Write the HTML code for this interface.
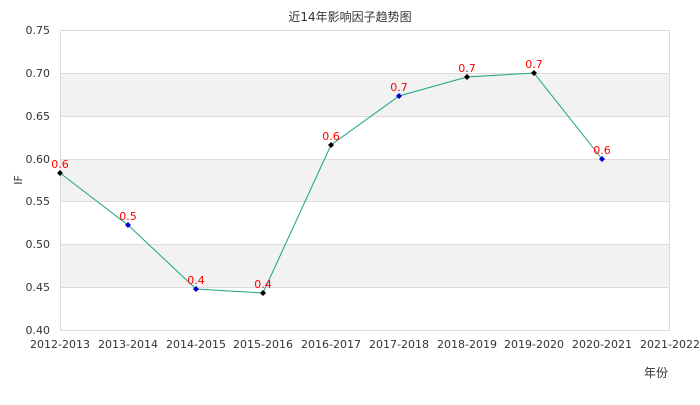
<!DOCTYPE html>
<html><head><meta charset="utf-8"><style>
body{margin:0;background:#fff}
text{font-family:"DejaVu Sans","Noto Sans CJK SC",sans-serif;}
</style></head><body>
<svg width="700" height="400" xmlns="http://www.w3.org/2000/svg">
<rect width="700" height="400" fill="#fff"/>
<text x="350" y="21" font-size="12" fill="#333" text-anchor="middle">近14年影响因子趋势图</text>
<g fill="#f2f2f2">
<rect x="60" y="73" width="610" height="43"/>
<rect x="60" y="159" width="610" height="42"/>
<rect x="60" y="244" width="610" height="43"/>
</g>
<g stroke="#dcdcdc" stroke-width="1">
<line x1="60" y1="30.5" x2="670" y2="30.5"/>
<line x1="60" y1="73.5" x2="670" y2="73.5"/>
<line x1="60" y1="116.5" x2="670" y2="116.5"/>
<line x1="60" y1="159.5" x2="670" y2="159.5"/>
<line x1="60" y1="201.5" x2="670" y2="201.5"/>
<line x1="60" y1="244.5" x2="670" y2="244.5"/>
<line x1="60" y1="287.5" x2="670" y2="287.5"/>
<line x1="60" y1="330.5" x2="670" y2="330.5"/>
<line x1="60.5" y1="30" x2="60.5" y2="330"/>
<line x1="669.5" y1="30" x2="669.5" y2="330"/>
</g>
<g font-size="11" fill="#333" text-anchor="end">
<text x="50" y="34">0.75</text><text x="50" y="77">0.70</text><text x="50" y="120">0.65</text>
<text x="50" y="163">0.60</text><text x="50" y="205">0.55</text><text x="50" y="248">0.50</text>
<text x="50" y="291">0.45</text><text x="50" y="334">0.40</text>
</g>
<text x="22" y="180" font-size="11" fill="#333" text-anchor="middle" transform="rotate(-90 22 180)">IF</text>
<g font-size="11" fill="#333" text-anchor="middle">
<text x="60" y="348">2012-2013</text><text x="128" y="348">2013-2014</text><text x="196" y="348">2014-2015</text>
<text x="263" y="348">2015-2016</text><text x="331" y="348">2016-2017</text><text x="399" y="348">2017-2018</text>
<text x="467" y="348">2018-2019</text><text x="534" y="348">2019-2020</text><text x="602" y="348">2020-2021</text>
<text x="670" y="348">2021-2022</text>
</g>
<text x="656" y="377" font-size="12" fill="#333" text-anchor="middle">年份</text>
<polyline fill="none" stroke="#1aa384" stroke-width="1" points="60,173 128,225 196,289 263,293 331,145 399,96 467,77 534,73 602,159"/>
<g>
<path d="M60,170 l3,3 -3,3 -3,-3z" fill="#000"/>
<path d="M128,222 l3,3 -3,3 -3,-3z" fill="#00c"/>
<path d="M196,286 l3,3 -3,3 -3,-3z" fill="#00c"/>
<path d="M263,290 l3,3 -3,3 -3,-3z" fill="#000"/>
<path d="M331,142 l3,3 -3,3 -3,-3z" fill="#000"/>
<path d="M399,93 l3,3 -3,3 -3,-3z" fill="#00c"/>
<path d="M467,74 l3,3 -3,3 -3,-3z" fill="#000"/>
<path d="M534,70 l3,3 -3,3 -3,-3z" fill="#000"/>
<path d="M602,156 l3,3 -3,3 -3,-3z" fill="#00c"/>
</g>
<g font-size="11" fill="#f00" text-anchor="middle">
<text x="60" y="168">0.6</text><text x="128" y="220">0.5</text><text x="196" y="284">0.4</text>
<text x="263" y="288">0.4</text><text x="331" y="140">0.6</text><text x="399" y="91">0.7</text>
<text x="467" y="72">0.7</text><text x="534" y="68">0.7</text><text x="602" y="154">0.6</text>
</g>
</svg>
</body></html>
